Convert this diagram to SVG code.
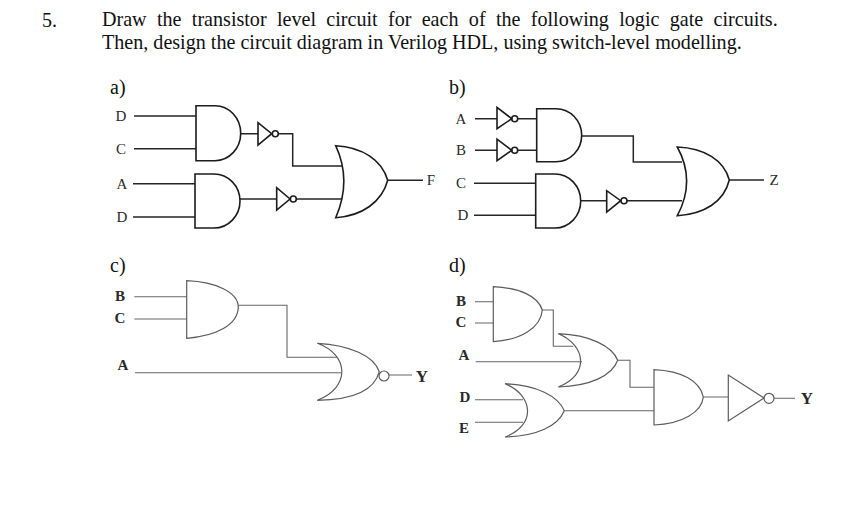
<svg xmlns="http://www.w3.org/2000/svg" width="853" height="522" viewBox="0 0 853 522">
<style>
.bg{fill:#fff}
text{font-family:"Liberation Serif","Times New Roman",serif;fill:#111}
.h{font-size:20.1px}
.p{font-size:20px}
.l{font-size:15px;text-anchor:middle;dominant-baseline:central;fill:#2a2a2a}
.lb{font-size:15px;font-weight:bold;text-anchor:middle;dominant-baseline:central;fill:#2a2a2a}
.ly{font-size:17px}
.g1{fill:none;stroke:#1c1c1c;stroke-width:1.6}
.g2{fill:none;stroke:#5c5c5c;stroke-width:1.2}
.w1{fill:none;stroke:#262626;stroke-width:1.5}
.w2{fill:none;stroke:#666;stroke-width:1.1}
</style>
<rect class="bg" width="853" height="522"/>
<g id="heading">
<text class="h" x="42" y="27">5.</text>
<text class="h" x="102" y="26" word-spacing="5.3">Draw the transistor level circuit for each of the following logic gate circuits.</text>
<text class="h" x="102" y="49">Then, design the circuit diagram in Verilog HDL, using switch-level modelling.</text>
<text class="p" x="110" y="94">a)</text>
<text class="p" x="449" y="94">b)</text>
<text class="p" x="110" y="272">c)</text>
<text class="p" x="449" y="272">d)</text>
</g>
<g id="connectors">
<path class="w1" d="M134 116H196M134 148.700H196M241 133.700H258M278 133.700H292.700V166H342M133 183.700H195M133 217H195M240 199H277M296 199H342M388 180.300H423"/>
<path class="w1" d="M475 118.700H497M518 118.700H537M475 150.300H497M518 150.300H537M582 136H633.300V162H682M474 183.300H536M474 215.300H536M581 200.700H607M627 200.700H682M729 180H764"/>
<path class="w2" d="M134.300 296.700H187M134.300 319H187M238.300 305.300H287V357.300H337M135 372.700H341M389 375H412"/>
<path class="w2" d="M475 301.700H493M475 323H493M542.300 310H553.300V346.300H573.300M475.700 361.700H582M617.700 360.300H630V387.300H654M475 399.700H523M475 422.300H523M564.300 410.700H654M703.300 397H728.300M774 398.300H795"/>
</g>
<g id="gate-a-and1"><path class="g1" d="M196 105.700H215A25.700 27.500 0 0 1 215 160.700H196Z"/><text class="l" x="121" y="116">D</text><text class="l" x="121" y="149">C</text></g>
<g id="gate-a-not1"><path class="g1" d="M258 122.700V145L271.700 133.700Z"/><circle class="g1" cx="275.300" cy="133.700" r="3"/></g>
<g id="gate-a-and2"><path class="g1" d="M195 174H214A26 27 0 0 1 214 228H195Z"/><text class="l" x="122" y="184">A</text><text class="l" x="122" y="217">D</text></g>
<g id="gate-a-not2"><path class="g1" d="M276.700 187.700V210L290 199Z"/><circle class="g1" cx="293.300" cy="199" r="3"/></g>
<g id="gate-a-or"><path class="g1" d="M335.700 145.700Q352 181 335.700 217.700C362 216 382 202 387.700 180.300C382 160 362 147 335.700 145.700Z"/><text class="l" x="431" y="180">F</text></g>
<g id="gate-b-not1"><path class="g1" d="M497 107.300V128.700L511.700 118.700Z"/><circle class="g1" cx="514.700" cy="118.700" r="3"/><text class="l" x="461" y="119">A</text></g>
<g id="gate-b-not2"><path class="g1" d="M497 139V160.700L511.700 150.300Z"/><circle class="g1" cx="514.700" cy="150.300" r="3"/><text class="l" x="461" y="150">B</text></g>
<g id="gate-b-and1"><path class="g1" d="M536.700 108.700H556A25.700 26.500 0 0 1 556 161.700H536.700Z"/></g>
<g id="gate-b-and2"><path class="g1" d="M535.700 174H555A25.700 27 0 0 1 555 228H535.700Z"/><text class="l" x="461" y="183">C</text><text class="l" x="463" y="215">D</text></g>
<g id="gate-b-not3"><path class="g1" d="M606.700 190.700V212L620.700 200.700Z"/><circle class="g1" cx="624" cy="200.700" r="3"/></g>
<g id="gate-b-or"><path class="g1" d="M677.300 147Q696 181 677.300 215.700C704 214 724 202 729.300 180C724 160 704 148 677.300 147Z"/><text class="l" x="774" y="180">Z</text></g>
<g id="gate-c-and"><path class="g2" d="M186.700 280.700V338.300C216 336 238 325 238.300 307C238 292 216 282 186.700 280.700Z"/><text class="lb" x="120" y="296">B</text><text class="lb" x="120" y="318">C</text></g>
<g id="gate-c-nor"><path class="g2" d="M317.300 343.300C350 355 350 388 317.300 400.300C350 400 374 392 379.300 371.700C374 356 350 345 317.300 343.300Z"/><circle class="g2" cx="384" cy="376" r="5"/><text class="lb" x="123" y="365">A</text><text class="lb ly" x="422" y="376">Y</text></g>
<g id="gate-d-and1"><path class="g2" d="M493.300 286.700V341.700C520 340 541 328 542.300 310C538 296 520 288 493.300 286.700Z"/><text class="lb" x="461" y="301">B</text><text class="lb" x="461" y="322">C</text></g>
<g id="gate-d-or1"><path class="g2" d="M558.300 333.700C586 345 590 375 558.300 387C590 386 612 376 617.700 360.300C612 346 590 335 558.300 333.700Z"/><text class="lb" x="464" y="355">A</text></g>
<g id="gate-d-or2"><path class="g2" d="M505 383.700C533 395 537 425 505 437C537 436 558 426 564.300 410.700C558 396 537 385 505 383.700Z"/><text class="lb" x="465" y="397">D</text><text class="lb" x="464" y="428">E</text></g>
<g id="gate-d-and2"><path class="g2" d="M654 369.700V425C682 424 702 412 703.300 397C700 381 682 371 654 369.700Z"/></g>
<g id="gate-d-not"><path class="g2" d="M728.300 375V421L764 398Z"/><circle class="g2" cx="769" cy="398.300" r="5"/><text class="lb ly" x="807" y="398">Y</text></g>
</svg>
